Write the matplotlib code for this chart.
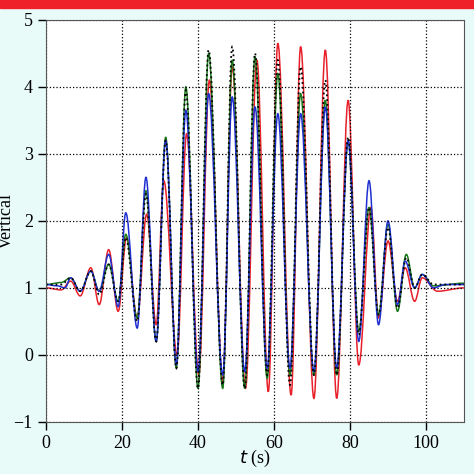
import matplotlib
matplotlib.use("Agg")
import matplotlib.pyplot as plt
from matplotlib.path import Path
from matplotlib.patches import PathPatch, Rectangle

plt.rcParams['font.family'] = ['Liberation Serif', 'DejaVu Serif']

# extrema (time s, value) for each series
blue_t = [0, 3, 5, 6.5, 9, 11.8, 14, 16.5, 19, 21, 24, 26.3, 29, 31.5, 34.3, 36.8, 40, 42.8, 46.5, 49, 52.3, 55, 58.2, 61, 64.2, 67, 70.5, 73.5, 76.5, 79.5, 82.3, 85, 87.5, 90, 92.5, 94.5, 97, 99, 102, 105, 110]
blue_v = [1.05, 1.03, 1.0, 1.15, 0.95, 1.25, 0.95, 1.5, 0.72, 2.12, 0.4, 2.65, 0.2, 3.2, -0.15, 3.65, -0.25, 3.9, -0.3, 3.85, -0.25, 3.7, -0.2, 3.6, -0.2, 3.6, -0.25, 3.7, -0.2, 3.2, 0.2, 2.6, 0.45, 2.0, 0.75, 1.4, 1.0, 1.2, 1.0, 1.05, 1.05]

red_t = [0, 4, 6.5, 9, 11.8, 14, 16.5, 19, 21.2, 24, 26.5, 29, 31, 34.5, 37, 40.2, 43, 46.5, 49, 52.5, 55.5, 58.5, 61, 64.5, 67, 70.5, 73.5, 76.5, 79.5, 82.3, 85.5, 87.5, 90, 92.5, 94.5, 97, 99, 103, 110]
red_v = [1.0, 0.97, 1.1, 0.88, 1.3, 0.75, 1.57, 0.65, 1.75, 0.55, 2.1, 0.45, 2.6, 0.0, 3.3, -0.3, 4.1, -0.4, 4.3, -0.5, 4.4, -0.55, 4.65, -0.6, 4.6, -0.65, 4.55, -0.65, 3.8, -0.15, 2.2, 0.55, 1.7, 0.8, 1.3, 0.8, 1.15, 0.95, 1.0]

green_t = [0, 4, 6.5, 9, 11.8, 14, 16.5, 19, 21, 24, 26.3, 29, 31.5, 34.3, 36.8, 40, 42.8, 46.5, 49, 52.3, 55, 58.2, 61, 64.2, 67, 70.5, 73.5, 76.5, 79.5, 82.3, 85, 87.5, 90, 92.5, 94.8, 97, 99, 102, 110]
green_v = [1.05, 1.08, 1.15, 0.95, 1.25, 0.95, 1.35, 0.8, 1.8, 0.55, 2.45, 0.2, 3.25, -0.2, 4.0, -0.5, 4.5, -0.5, 4.4, -0.5, 4.45, -0.35, 4.2, -0.3, 3.9, -0.3, 3.8, -0.3, 3.2, 0.35, 2.2, 0.6, 1.95, 0.65, 1.5, 1.0, 1.2, 1.03, 1.07]

black_t = [0, 4, 6.5, 9, 11.8, 14, 16.5, 19, 21, 24, 26.3, 29, 31.5, 34.3, 36.8, 40, 42.8, 46.5, 49, 52.3, 55, 58.2, 61, 64.2, 67, 70.5, 73.5, 76.5, 79.5, 82.3, 85, 87.5, 90, 92.5, 94.8, 97, 99, 102, 110]
black_v = [1.05, 1.05, 1.15, 0.95, 1.25, 0.9, 1.35, 0.8, 1.75, 0.5, 2.4, 0.2, 3.2, -0.2, 3.95, -0.5, 4.55, -0.45, 4.6, -0.5, 4.5, -0.3, 4.4, -0.45, 4.3, -0.3, 4.1, -0.3, 3.25, 0.3, 2.2, 0.6, 1.9, 0.7, 1.45, 1.0, 1.2, 1.05, 1.05]

BG = '#e8fbf9'
fig = plt.figure(figsize=(4.74, 4.74), dpi=100, facecolor=BG)
fig.patches.append(Rectangle((0, 0.983), 1, 0.017, transform=fig.transFigure, color='#f0202a'))
ax = fig.add_axes([0.097, 0.11, 0.882, 0.848])
ax.set_facecolor('white')

def smooth_path(ts, vs):
    verts = [(ts[0], vs[0])]
    codes = [Path.MOVETO]
    for i in range(len(ts) - 1):
        d = (ts[i+1] - ts[i]) * 0.36
        verts += [(ts[i] + d, vs[i]), (ts[i+1] - d, vs[i+1]), (ts[i+1], vs[i+1])]
        codes += [Path.CURVE4] * 3
    return Path(verts, codes)

for ts, vs, c, ls, lw in [(red_t, red_v, '#e8202a', '-', 1.1),
                          (green_t, green_v, '#1a7a1a', '-', 1.1),
                          (blue_t, blue_v, '#2030d0', '-', 1.1),
                          (black_t, black_v, 'black', ':', 1.3)]:
    ax.add_patch(PathPatch(smooth_path(ts, vs), fill=False, edgecolor=c, lw=lw, ls=ls))

ax.set_xlim(0, 110)
ax.set_ylim(-1, 5)
ax.set_xticks([0, 20, 40, 60, 80, 100])
ax.set_yticks([-1, 0, 1, 2, 3, 4, 5])
ax.set_yticklabels(['−1', '0', '1', '2', '3', '4', '5'])
ax.grid(True, color='black', ls=':', lw=0.9)
ax.tick_params(labelsize=13, direction='out', length=6, width=1)
for s in ax.spines.values():
    s.set_color('#555555')
ax.set_ylabel('Vertical', fontsize=13)
ax.yaxis.set_label_coords(-0.075, 0.5)
ax.set_xlabel(r'$t$ (s)', fontsize=13, labelpad=-3)
fig.savefig('out.png', dpi=100, facecolor=BG)
